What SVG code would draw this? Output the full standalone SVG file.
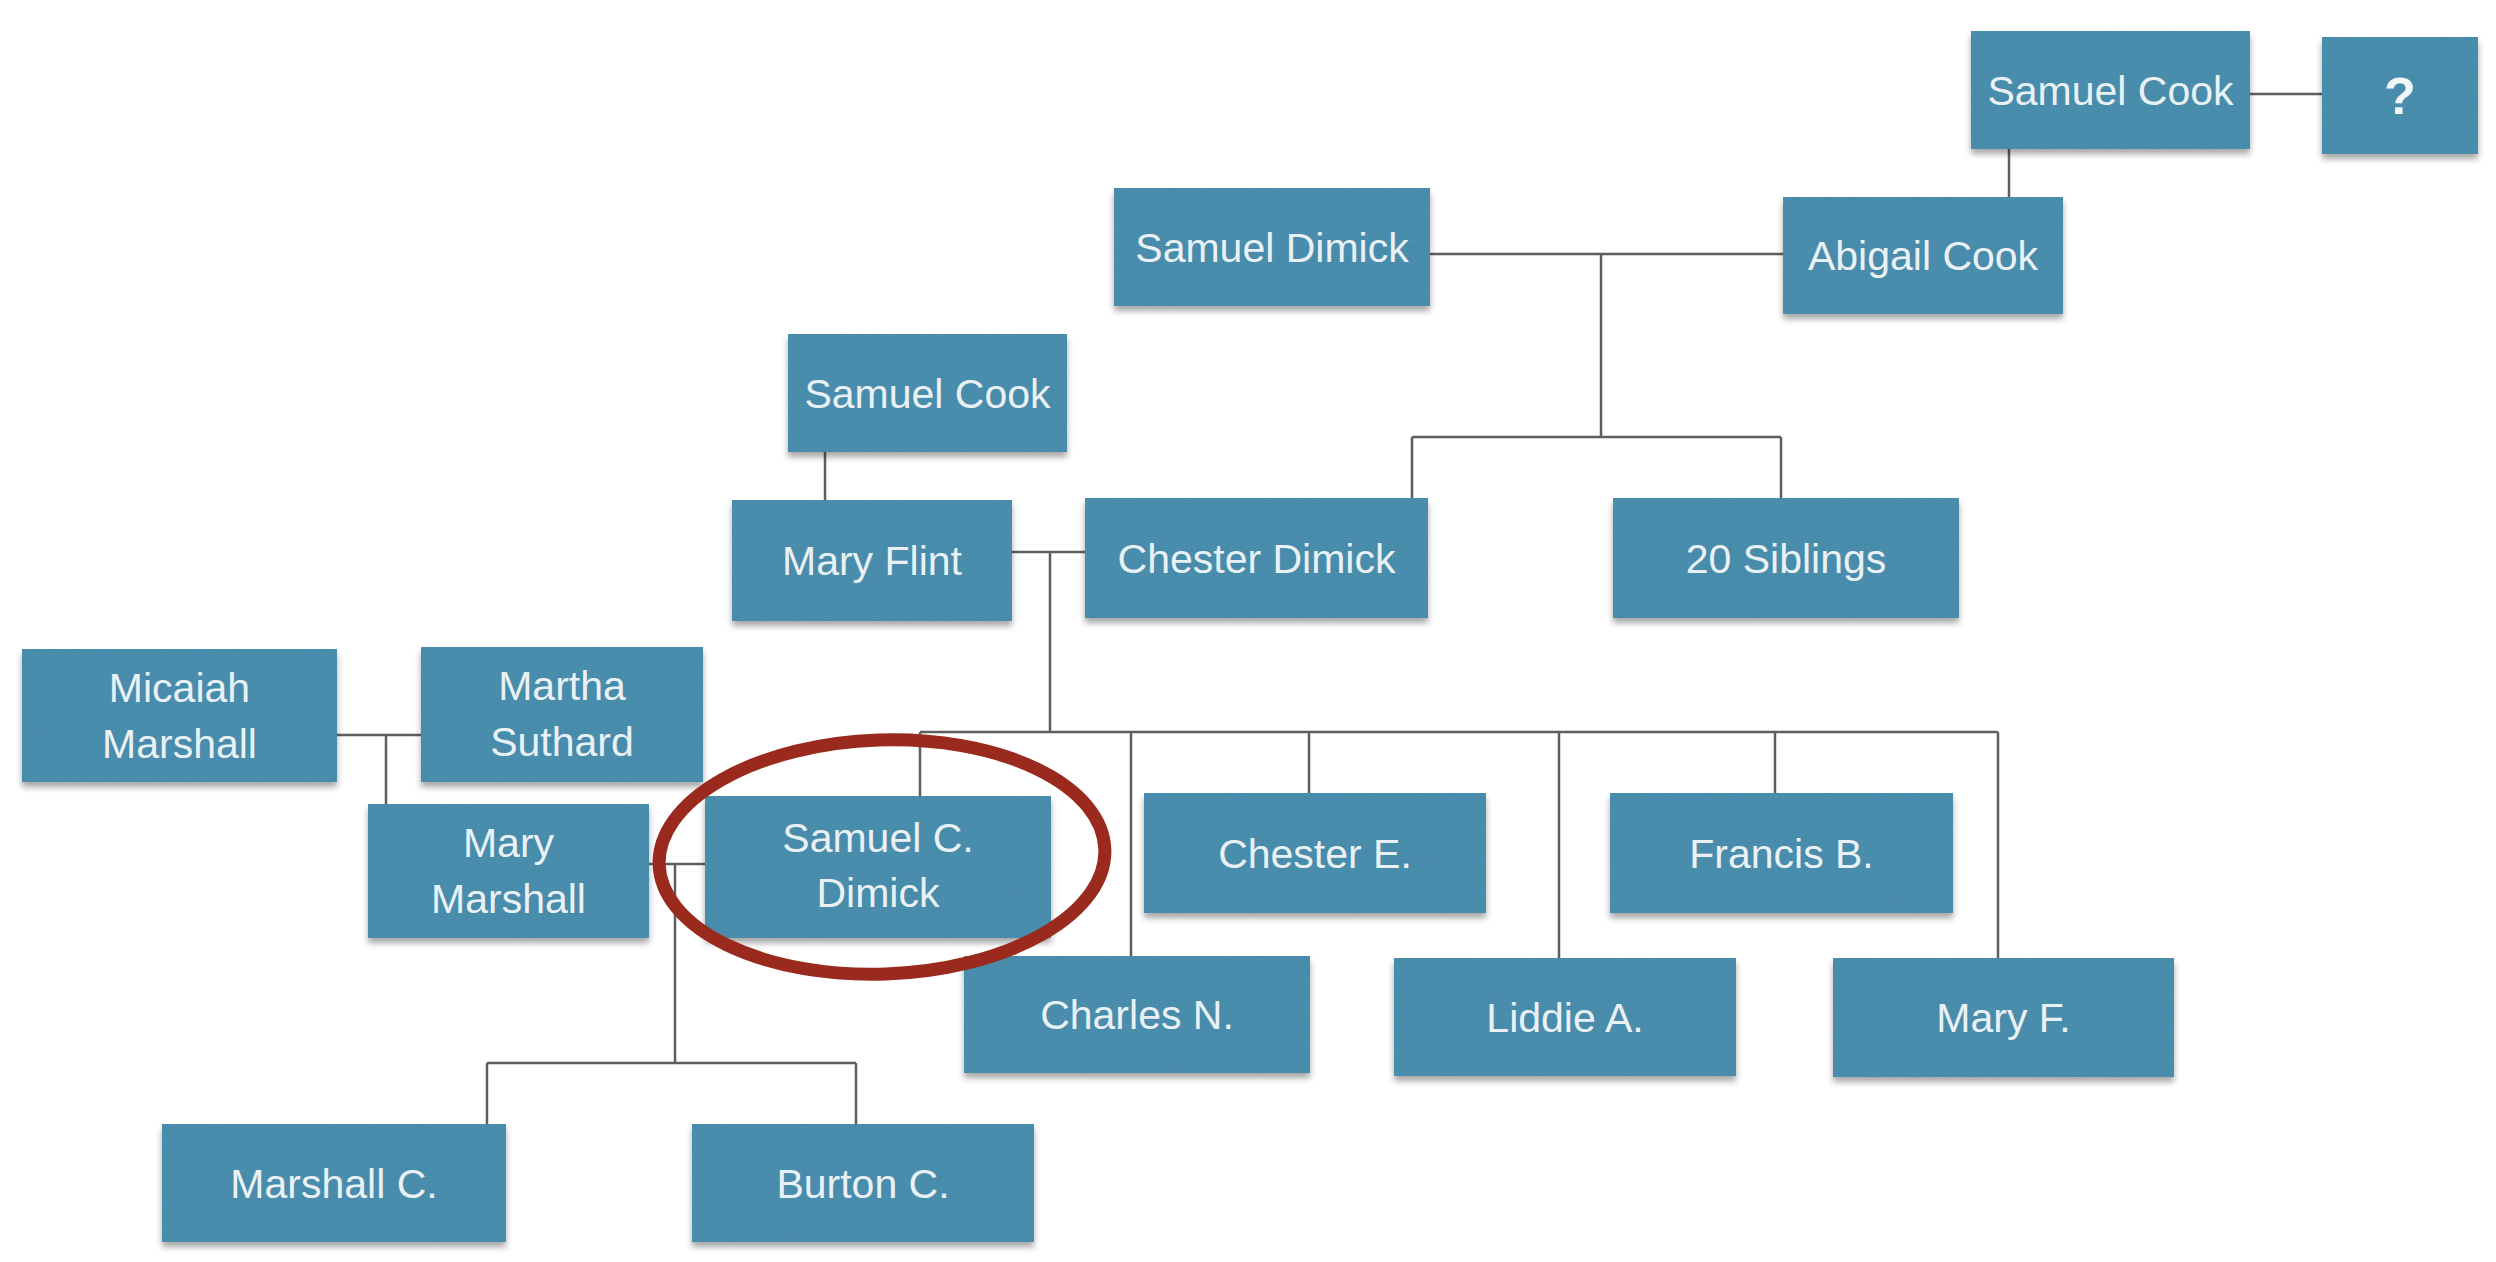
<svg xmlns="http://www.w3.org/2000/svg" width="2496" height="1262" viewBox="0 0 2496 1262">
<defs>
<filter id="box" x="-5%" y="-10%" width="110%" height="125%">
<feTurbulence type="fractalNoise" baseFrequency="0.85" numOctaves="2" seed="4" result="n"/>
<feColorMatrix in="n" type="matrix" values="0 0 0 0 0  0 0 0 0 0  0 0 0 0 0  0 0 0 0.25 -0.04" result="na"/>
<feComposite in="na" in2="SourceGraphic" operator="in" result="nm"/>
<feGaussianBlur in="SourceAlpha" stdDeviation="3"/>
<feOffset dy="5" result="sb"/>
<feFlood flood-color="#000" flood-opacity="0.35"/>
<feComposite in2="sb" operator="in" result="shadow"/>
<feMerge><feMergeNode in="shadow"/><feMergeNode in="SourceGraphic"/><feMergeNode in="nm"/></feMerge>
</filter>
</defs>
<style>
.b{fill:#4e93b3;filter:url(#box)}
.t{font-family:"Liberation Sans",Arial,sans-serif;font-size:41px;fill:#e9f1f5;text-anchor:middle}
.q{font-family:"Liberation Sans",Arial,sans-serif;font-size:52px;font-weight:bold;fill:#f2f6f8;text-anchor:middle}
.c{fill:none;stroke:#5e5e5e;stroke-width:2.5}
</style>
<rect width="2496" height="1262" fill="#ffffff"/>
<g id="connectors" class="c">
<path d="M2250,94 H2322"/>
<path d="M2009,149 V197"/>
<path d="M1430,254 H1783"/>
<path d="M1601,254 V437"/>
<path d="M1412,437 H1781"/>
<path d="M1412,437 V498"/>
<path d="M1781,437 V498"/>
<path d="M825,452 V500"/>
<path d="M1012,552 H1085"/>
<path d="M1050,552 V732"/>
<path d="M920,732 H1998"/>
<path d="M920,732 V796"/>
<path d="M1131,732 V956"/>
<path d="M1309,732 V793"/>
<path d="M1559,732 V958"/>
<path d="M1775,732 V793"/>
<path d="M1998,732 V958"/>
<path d="M337,735 H421"/>
<path d="M386,735 V804"/>
<path d="M649,864 H705"/>
<path d="M675,864 V1063"/>
<path d="M487,1063 H856"/>
<path d="M487,1063 V1124"/>
<path d="M856,1063 V1124"/>
</g>
<g id="samuel-cook-top"><rect class="b" x="1971" y="31" width="279" height="118"/><text class="t" x="2110.5" y="105">Samuel Cook</text></g>
<g id="unknown"><rect class="b" x="2322" y="37" width="156" height="117"/><text class="q" x="2400" y="114">?</text></g>
<g id="samuel-dimick"><rect class="b" x="1114" y="188" width="316" height="118"/><text class="t" x="1272" y="262">Samuel Dimick</text></g>
<g id="abigail-cook"><rect class="b" x="1783" y="197" width="280" height="117"/><text class="t" x="1923" y="270">Abigail Cook</text></g>
<g id="samuel-cook-mid"><rect class="b" x="788" y="334" width="279" height="118"/><text class="t" x="927.5" y="408">Samuel Cook</text></g>
<g id="mary-flint"><rect class="b" x="732" y="500" width="280" height="121"/><text class="t" x="872" y="575">Mary Flint</text></g>
<g id="chester-dimick"><rect class="b" x="1085" y="498" width="343" height="120"/><text class="t" x="1256.5" y="573">Chester Dimick</text></g>
<g id="twenty-siblings"><rect class="b" x="1613" y="498" width="346" height="120"/><text class="t" x="1786" y="573">20 Siblings</text></g>
<g id="micaiah-marshall"><rect class="b" x="22" y="649" width="315" height="133"/><text class="t" x="179.5" y="702">Micaiah</text><text class="t" x="179.5" y="758">Marshall</text></g>
<g id="martha-suthard"><rect class="b" x="421" y="647" width="282" height="135"/><text class="t" x="562" y="700">Martha</text><text class="t" x="562" y="756">Suthard</text></g>
<g id="mary-marshall"><rect class="b" x="368" y="804" width="281" height="134"/><text class="t" x="508.5" y="857">Mary</text><text class="t" x="508.5" y="913">Marshall</text></g>
<g id="samuel-c-dimick"><rect class="b" x="705" y="796" width="346" height="142"/><text class="t" x="878" y="852">Samuel C.</text><text class="t" x="878" y="907">Dimick</text></g>
<g id="chester-e"><rect class="b" x="1144" y="793" width="342" height="120"/><text class="t" x="1315" y="868">Chester E.</text></g>
<g id="francis-b"><rect class="b" x="1610" y="793" width="343" height="120"/><text class="t" x="1781.5" y="868">Francis B.</text></g>
<g id="charles-n"><rect class="b" x="964" y="956" width="346" height="117"/><text class="t" x="1137" y="1029">Charles N.</text></g>
<g id="liddie-a"><rect class="b" x="1394" y="958" width="342" height="118"/><text class="t" x="1565" y="1032">Liddie A.</text></g>
<g id="mary-f"><rect class="b" x="1833" y="958" width="341" height="119"/><text class="t" x="2003.5" y="1032">Mary F.</text></g>
<g id="marshall-c"><rect class="b" x="162" y="1124" width="344" height="118"/><text class="t" x="334" y="1198">Marshall C.</text></g>
<g id="burton-c"><rect class="b" x="692" y="1124" width="342" height="118"/><text class="t" x="863" y="1198">Burton C.</text></g>
<g id="highlight"><ellipse cx="882" cy="857" rx="223" ry="117" fill="none" stroke="#9b2a1e" stroke-width="13" transform="rotate(-2 882 857)"/></g>
</svg>
